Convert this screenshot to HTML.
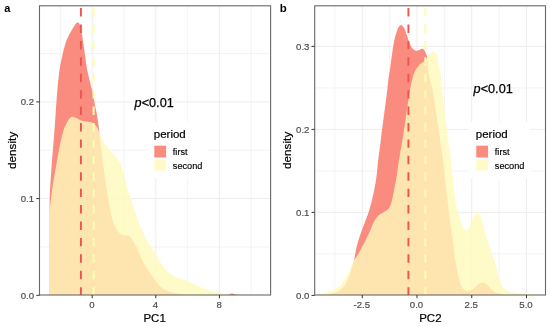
<!DOCTYPE html>
<html><head><meta charset="utf-8"><title>density</title>
<style>html,body{margin:0;padding:0;background:#fff}svg{display:block}</style></head>
<body>
<svg width="550" height="326" viewBox="0 0 550 326" font-family="'Liberation Sans', sans-serif">
<rect width="550" height="326" fill="#fff"/>
<defs></defs>
<clipPath id="ca"><rect x="39.5" y="5.8" width="231.10000000000002" height="289.2"/></clipPath>
<rect x="39.5" y="5.8" width="231.10000000000002" height="289.2" fill="#fff"/>
<line x1="60.400000000000006" x2="60.400000000000006" y1="5.8" y2="295.0" stroke="#F0F0F0" stroke-width="0.8"/>
<line x1="124.0" x2="124.0" y1="5.8" y2="295.0" stroke="#F0F0F0" stroke-width="0.8"/>
<line x1="187.60000000000002" x2="187.60000000000002" y1="5.8" y2="295.0" stroke="#F0F0F0" stroke-width="0.8"/>
<line x1="251.2" x2="251.2" y1="5.8" y2="295.0" stroke="#F0F0F0" stroke-width="0.8"/>
<line x1="39.5" x2="270.6" y1="246.95000000000002" y2="246.95000000000002" stroke="#F0F0F0" stroke-width="0.8"/>
<line x1="39.5" x2="270.6" y1="150.25000000000003" y2="150.25000000000003" stroke="#F0F0F0" stroke-width="0.8"/>
<line x1="39.5" x2="270.6" y1="53.55000000000001" y2="53.55000000000001" stroke="#F0F0F0" stroke-width="0.8"/>
<line x1="92.2" x2="92.2" y1="5.8" y2="295.0" stroke="#EDEDED" stroke-width="1"/>
<line x1="155.8" x2="155.8" y1="5.8" y2="295.0" stroke="#EDEDED" stroke-width="1"/>
<line x1="219.4" x2="219.4" y1="5.8" y2="295.0" stroke="#EDEDED" stroke-width="1"/>
<line x1="39.5" x2="270.6" y1="198.60000000000002" y2="198.60000000000002" stroke="#EDEDED" stroke-width="1"/>
<line x1="39.5" x2="270.6" y1="101.9" y2="101.9" stroke="#EDEDED" stroke-width="1"/>
<g clip-path="url(#ca)">
<path d="M49.60,295.30 L49.60,199.00 L49.69,197.20 L49.81,194.74 L49.96,191.81 L50.12,188.59 L50.30,185.26 L50.50,182.00 L50.71,178.73 L50.95,175.30 L51.20,171.75 L51.46,168.15 L51.73,164.55 L52.00,161.00 L52.27,157.49 L52.56,153.96 L52.85,150.44 L53.14,146.93 L53.43,143.44 L53.70,140.00 L53.97,136.59 L54.23,133.19 L54.48,129.81 L54.73,126.48 L54.97,123.21 L55.20,120.00 L55.42,116.86 L55.62,113.78 L55.81,110.75 L56.00,107.78 L56.20,104.86 L56.40,102.00 L56.61,99.22 L56.81,96.52 L57.01,93.88 L57.23,91.26 L57.45,88.64 L57.70,86.00 L57.97,83.24 L58.27,80.37 L58.59,77.50 L58.90,74.74 L59.21,72.20 L59.50,70.00 L59.77,68.21 L60.01,66.75 L60.26,65.51 L60.50,64.39 L60.74,63.25 L61.00,62.00 L61.27,60.63 L61.55,59.23 L61.84,57.83 L62.13,56.44 L62.41,55.09 L62.70,53.80 L62.97,52.59 L63.24,51.46 L63.50,50.36 L63.77,49.27 L64.07,48.16 L64.40,47.00 L64.76,45.78 L65.14,44.53 L65.54,43.25 L65.97,41.97 L66.42,40.72 L66.90,39.50 L67.41,38.32 L67.97,37.15 L68.54,36.00 L69.13,34.87 L69.72,33.77 L70.30,32.70 L70.88,31.63 L71.49,30.55 L72.09,29.50 L72.68,28.50 L73.22,27.59 L73.70,26.80 L74.11,26.14 L74.46,25.59 L74.76,25.12 L75.04,24.72 L75.32,24.36 L75.60,24.00 L75.89,23.65 L76.16,23.34 L76.42,23.06 L76.69,22.82 L76.94,22.63 L77.20,22.50 L77.46,22.42 L77.71,22.39 L77.97,22.41 L78.22,22.48 L78.46,22.61 L78.70,22.80 L78.93,23.05 L79.15,23.35 L79.36,23.71 L79.57,24.13 L79.79,24.63 L80.00,25.20 L80.21,25.82 L80.42,26.49 L80.63,27.22 L80.84,28.06 L81.07,29.04 L81.30,30.20 L81.55,31.57 L81.81,33.13 L82.08,34.83 L82.35,36.62 L82.62,38.46 L82.90,40.30 L83.17,42.10 L83.43,43.88 L83.69,45.71 L83.96,47.65 L84.26,49.76 L84.60,52.10 L84.96,54.71 L85.32,57.54 L85.71,60.54 L86.14,63.65 L86.63,66.82 L87.20,70.00 L87.91,73.33 L88.74,76.88 L89.64,80.49 L90.53,84.00 L91.34,87.22 L92.00,90.00 L92.50,92.25 L92.87,94.07 L93.17,95.62 L93.44,97.04 L93.70,98.45 L94.00,100.00 L94.34,101.70 L94.69,103.44 L95.04,105.19 L95.39,106.89 L95.71,108.51 L96.00,110.00 L96.25,111.28 L96.47,112.37 L96.67,113.38 L96.86,114.41 L97.07,115.58 L97.30,117.00 L97.57,118.78 L97.88,120.85 L98.19,123.06 L98.50,125.26 L98.78,127.29 L99.00,129.00 L99.14,130.19 L99.21,130.93 L99.26,131.50 L99.31,132.19 L99.41,133.26 L99.60,135.00 L99.89,137.52 L100.26,140.63 L100.67,144.12 L101.12,147.81 L101.57,151.50 L102.00,155.00 L102.43,158.39 L102.87,161.85 L103.31,165.31 L103.76,168.70 L104.19,171.96 L104.60,175.00 L105.00,177.85 L105.38,180.56 L105.76,183.12 L106.12,185.56 L106.47,187.85 L106.80,190.00 L107.11,191.95 L107.40,193.70 L107.68,195.30 L107.95,196.84 L108.22,198.38 L108.50,200.00 L108.77,201.69 L109.04,203.39 L109.30,205.09 L109.57,206.79 L109.87,208.50 L110.20,210.20 L110.56,211.93 L110.94,213.70 L111.35,215.46 L111.78,217.19 L112.23,218.85 L112.70,220.40 L113.19,221.84 L113.70,223.19 L114.24,224.47 L114.80,225.69 L115.38,226.86 L116.00,228.00 L116.66,229.13 L117.36,230.25 L118.09,231.33 L118.84,232.31 L119.58,233.19 L120.30,233.90 L121.01,234.43 L121.71,234.80 L122.41,235.06 L123.10,235.23 L123.80,235.36 L124.50,235.50 L125.22,235.59 L125.96,235.59 L126.70,235.56 L127.42,235.53 L128.09,235.56 L128.70,235.70 L129.23,235.94 L129.69,236.24 L130.11,236.59 L130.50,237.01 L130.89,237.48 L131.30,238.00 L131.73,238.62 L132.17,239.34 L132.61,240.13 L133.03,240.91 L133.43,241.65 L133.80,242.30 L134.12,242.82 L134.40,243.23 L134.65,243.61 L134.90,243.99 L135.18,244.44 L135.50,245.00 L135.85,245.64 L136.22,246.31 L136.61,247.04 L137.03,247.88 L137.49,248.85 L138.00,250.00 L138.56,251.38 L139.15,252.96 L139.78,254.69 L140.46,256.48 L141.20,258.28 L142.00,260.00 L142.87,261.67 L143.81,263.33 L144.81,265.00 L145.85,266.67 L146.92,268.33 L148.00,270.00 L149.11,271.69 L150.26,273.41 L151.44,275.12 L152.63,276.81 L153.82,278.45 L155.00,280.00 L156.13,281.49 L157.22,282.95 L158.31,284.35 L159.44,285.67 L160.66,286.90 L162.00,288.00 L163.52,288.97 L165.19,289.84 L166.94,290.60 L168.70,291.27 L170.41,291.87 L172.00,292.40 L173.43,292.84 L174.74,293.16 L176.00,293.41 L177.26,293.61 L178.57,293.80 L180.00,294.00 L181.26,294.21 L182.26,294.40 L183.31,294.58 L184.74,294.74 L186.86,294.88 L190.00,295.00 L194.76,295.10 L201.00,295.19 L207.94,295.26 L214.78,295.30 L220.73,295.30 L225.00,295.30 L227.34,295.25 L228.33,295.16 L228.44,295.04 L228.11,294.91 L227.81,294.76 L228.00,294.60 L228.61,294.40 L229.26,294.15 L229.94,293.88 L230.63,293.64 L231.32,293.47 L232.00,293.40 L232.67,293.47 L233.33,293.64 L234.00,293.88 L234.67,294.15 L235.33,294.40 L236.00,294.60 L236.71,294.75 L237.48,294.90 L238.25,295.03 L238.96,295.14 L239.56,295.23 L240.00,295.30 L240.00,295.30 Z" fill="rgb(249,139,127)"/>
<path d="M49.60,295.30 L49.60,212.00 L49.72,210.74 L49.87,209.04 L50.06,207.00 L50.28,204.74 L50.53,202.37 L50.80,200.00 L51.10,197.56 L51.44,194.94 L51.81,192.21 L52.20,189.43 L52.60,186.67 L53.00,184.00 L53.41,181.41 L53.83,178.86 L54.26,176.33 L54.70,173.80 L55.15,171.27 L55.60,168.70 L56.06,166.08 L56.53,163.40 L57.00,160.71 L57.47,158.05 L57.94,155.47 L58.40,153.00 L58.85,150.63 L59.29,148.32 L59.73,146.08 L60.16,143.94 L60.59,141.90 L61.00,140.00 L61.41,138.22 L61.80,136.56 L62.19,135.00 L62.57,133.56 L62.94,132.22 L63.30,131.00 L63.63,129.94 L63.94,129.04 L64.23,128.25 L64.53,127.52 L64.85,126.79 L65.20,126.00 L65.60,125.14 L66.03,124.26 L66.48,123.38 L66.94,122.52 L67.38,121.72 L67.80,121.00 L68.19,120.36 L68.57,119.78 L68.94,119.26 L69.30,118.79 L69.65,118.37 L70.00,118.00 L70.34,117.69 L70.66,117.44 L70.98,117.24 L71.30,117.09 L71.64,116.98 L72.00,116.90 L72.39,116.86 L72.80,116.87 L73.22,116.92 L73.65,117.00 L74.08,117.09 L74.50,117.20 L74.90,117.31 L75.27,117.43 L75.64,117.57 L76.03,117.74 L76.48,117.94 L77.00,118.20 L77.60,118.54 L78.27,118.95 L78.99,119.40 L79.75,119.85 L80.52,120.26 L81.30,120.60 L82.09,120.85 L82.91,121.05 L83.75,121.21 L84.60,121.34 L85.45,121.47 L86.30,121.60 L87.17,121.72 L88.06,121.80 L88.96,121.87 L89.83,121.97 L90.65,122.10 L91.40,122.30 L92.06,122.57 L92.66,122.88 L93.21,123.24 L93.72,123.63 L94.21,124.05 L94.70,124.50 L95.17,124.96 L95.62,125.42 L96.05,125.92 L96.47,126.47 L96.88,127.09 L97.30,127.80 L97.71,128.61 L98.11,129.51 L98.50,130.48 L98.90,131.51 L99.33,132.59 L99.80,133.70 L100.30,134.88 L100.81,136.14 L101.34,137.45 L101.91,138.77 L102.53,140.07 L103.20,141.30 L103.97,142.51 L104.83,143.72 L105.74,144.91 L106.64,146.04 L107.48,147.08 L108.20,148.00 L108.78,148.77 L109.25,149.40 L109.66,149.95 L110.06,150.45 L110.49,150.95 L111.00,151.50 L111.61,152.07 L112.28,152.63 L112.99,153.19 L113.70,153.76 L114.38,154.36 L115.00,155.00 L115.56,155.68 L116.07,156.39 L116.56,157.12 L117.04,157.89 L117.51,158.68 L118.00,159.50 L118.50,160.31 L119.00,161.09 L119.50,161.91 L120.00,162.80 L120.50,163.81 L121.00,165.00 L121.49,166.35 L121.97,167.81 L122.44,169.41 L122.93,171.13 L123.45,172.99 L124.00,175.00 L124.60,177.27 L125.25,179.81 L125.92,182.50 L126.60,185.19 L127.27,187.73 L127.90,190.00 L128.50,191.95 L129.07,193.70 L129.64,195.30 L130.19,196.84 L130.74,198.38 L131.30,200.00 L131.85,201.69 L132.40,203.39 L132.95,205.09 L133.50,206.79 L134.05,208.50 L134.60,210.20 L135.15,211.90 L135.70,213.60 L136.24,215.31 L136.80,217.01 L137.39,218.71 L138.00,220.40 L138.64,222.09 L139.31,223.77 L139.99,225.46 L140.70,227.14 L141.44,228.82 L142.20,230.50 L143.03,232.25 L143.93,234.08 L144.86,235.91 L145.76,237.66 L146.59,239.25 L147.30,240.60 L147.86,241.66 L148.30,242.47 L148.67,243.12 L149.01,243.70 L149.37,244.30 L149.80,245.00 L150.26,245.74 L150.71,246.44 L151.18,247.15 L151.70,247.94 L152.30,248.87 L153.00,250.00 L153.83,251.38 L154.76,252.96 L155.76,254.69 L156.82,256.48 L157.91,258.28 L159.00,260.00 L160.10,261.71 L161.22,263.48 L162.38,265.25 L163.56,266.96 L164.76,268.56 L166.00,270.00 L167.25,271.25 L168.52,272.37 L169.81,273.38 L171.15,274.30 L172.54,275.16 L174.00,276.00 L175.53,276.77 L177.11,277.44 L178.75,278.06 L180.44,278.67 L182.19,279.30 L184.00,280.00 L185.88,280.78 L187.85,281.59 L189.88,282.44 L191.93,283.30 L193.98,284.16 L196.00,285.00 L198.00,285.86 L200.00,286.74 L202.00,287.62 L204.00,288.48 L206.00,289.28 L208.00,290.00 L210.05,290.63 L212.15,291.20 L214.25,291.72 L216.30,292.19 L218.23,292.61 L220.00,293.00 L221.59,293.34 L223.04,293.64 L224.38,293.89 L225.63,294.11 L226.83,294.31 L228.00,294.50 L229.19,294.68 L230.37,294.85 L231.50,294.99 L232.52,295.12 L233.37,295.22 L234.00,295.30 L234.00,295.30 Z" fill="rgb(255,250,187)" fill-opacity="0.805"/>
<line x1="80.9" x2="80.9" y1="295.6" y2="5.8" stroke="#EE534D" stroke-width="1.9" stroke-dasharray="8.4 8.02"/>
<line x1="93.6" x2="93.6" y1="295.6" y2="5.8" stroke="#FFFDB0" stroke-width="2.1" stroke-dasharray="8.4 8.02"/>
</g>
<rect x="147" y="122" width="61" height="56" fill="#fff"/>
<text x="153.8" y="138.2" font-size="11.5" fill="#000" stroke="#000" stroke-width="0.2">period</text>
<rect x="154.3" y="145.7" width="11.8" height="11.8" fill="rgb(249,139,127)"/>
<rect x="154.3" y="159.2" width="11.8" height="11.6" fill="#FFFBC8"/>
<text x="172.8" y="155.3" font-size="9.2" fill="#000" stroke="#000" stroke-width="0.15">first</text>
<text x="172.8" y="169" font-size="9.2" fill="#000" stroke="#000" stroke-width="0.15">second</text>
<rect x="39.5" y="5.8" width="231.10000000000002" height="289.2" fill="none" stroke="#686868" stroke-width="1.1"/>
<line x1="92.2" x2="92.2" y1="295.0" y2="298.2" stroke="#333" stroke-width="1"/>
<text x="91.9" y="308.0" font-size="9.6" fill="#4D4D4D" stroke="#4D4D4D" stroke-width="0.2" text-anchor="middle">0</text>
<line x1="155.8" x2="155.8" y1="295.0" y2="298.2" stroke="#333" stroke-width="1"/>
<text x="155.5" y="308.0" font-size="9.6" fill="#4D4D4D" stroke="#4D4D4D" stroke-width="0.2" text-anchor="middle">4</text>
<line x1="219.4" x2="219.4" y1="295.0" y2="298.2" stroke="#333" stroke-width="1"/>
<text x="219.1" y="308.0" font-size="9.6" fill="#4D4D4D" stroke="#4D4D4D" stroke-width="0.2" text-anchor="middle">8</text>
<line x1="36.3" x2="39.5" y1="295.3" y2="295.3" stroke="#333" stroke-width="1"/>
<text x="34" y="298.8" font-size="9.6" fill="#4D4D4D" stroke="#4D4D4D" stroke-width="0.2" text-anchor="end">0.0</text>
<line x1="36.3" x2="39.5" y1="198.60000000000002" y2="198.60000000000002" stroke="#333" stroke-width="1"/>
<text x="34" y="202.10000000000002" font-size="9.6" fill="#4D4D4D" stroke="#4D4D4D" stroke-width="0.2" text-anchor="end">0.1</text>
<line x1="36.3" x2="39.5" y1="101.9" y2="101.9" stroke="#333" stroke-width="1"/>
<text x="34" y="105.4" font-size="9.6" fill="#4D4D4D" stroke="#4D4D4D" stroke-width="0.2" text-anchor="end">0.2</text>
<text x="154.6" y="321.5" font-size="11.5" fill="#000" stroke="#000" stroke-width="0.2" text-anchor="middle">PC1</text>
<text transform="translate(15.8,150.4) rotate(-90)" font-size="11.6" letter-spacing="0.1" stroke="#000" stroke-width="0.2" fill="#000" text-anchor="middle">density</text>
<text x="134.6" y="106.8" font-size="12.7" fill="#000" stroke="#000" stroke-width="0.25"><tspan font-style="italic">p</tspan>&lt;0.01</text>
<text x="4.3" y="11.9" font-size="11" font-weight="bold" fill="#000">a</text>
<clipPath id="cb"><rect x="314.7" y="5.8" width="230.8" height="289.2"/></clipPath>
<rect x="314.7" y="5.8" width="230.8" height="289.2" fill="#fff"/>
<line x1="334.875" x2="334.875" y1="5.8" y2="295.0" stroke="#F0F0F0" stroke-width="0.8"/>
<line x1="389.625" x2="389.625" y1="5.8" y2="295.0" stroke="#F0F0F0" stroke-width="0.8"/>
<line x1="444.375" x2="444.375" y1="5.8" y2="295.0" stroke="#F0F0F0" stroke-width="0.8"/>
<line x1="499.125" x2="499.125" y1="5.8" y2="295.0" stroke="#F0F0F0" stroke-width="0.8"/>
<line x1="314.7" x2="545.5" y1="253.89999999999998" y2="253.89999999999998" stroke="#F0F0F0" stroke-width="0.8"/>
<line x1="314.7" x2="545.5" y1="170.89999999999998" y2="170.89999999999998" stroke="#F0F0F0" stroke-width="0.8"/>
<line x1="314.7" x2="545.5" y1="87.89999999999998" y2="87.89999999999998" stroke="#F0F0F0" stroke-width="0.8"/>
<line x1="362.25" x2="362.25" y1="5.8" y2="295.0" stroke="#EDEDED" stroke-width="1"/>
<line x1="417.0" x2="417.0" y1="5.8" y2="295.0" stroke="#EDEDED" stroke-width="1"/>
<line x1="471.75" x2="471.75" y1="5.8" y2="295.0" stroke="#EDEDED" stroke-width="1"/>
<line x1="526.5" x2="526.5" y1="5.8" y2="295.0" stroke="#EDEDED" stroke-width="1"/>
<line x1="314.7" x2="545.5" y1="212.39999999999998" y2="212.39999999999998" stroke="#EDEDED" stroke-width="1"/>
<line x1="314.7" x2="545.5" y1="129.39999999999998" y2="129.39999999999998" stroke="#EDEDED" stroke-width="1"/>
<line x1="314.7" x2="545.5" y1="46.39999999999998" y2="46.39999999999998" stroke="#EDEDED" stroke-width="1"/>
<g clip-path="url(#cb)">
<path d="M320.00,295.40 L320.00,295.40 L320.67,295.30 L321.62,295.16 L322.74,295.00 L323.91,294.83 L325.03,294.65 L326.00,294.50 L326.80,294.36 L327.53,294.23 L328.20,294.11 L328.85,293.98 L329.51,293.84 L330.20,293.70 L330.93,293.55 L331.67,293.41 L332.42,293.26 L333.16,293.09 L333.89,292.91 L334.60,292.70 L335.29,292.47 L335.96,292.21 L336.62,291.94 L337.26,291.64 L337.89,291.33 L338.50,291.00 L339.09,290.65 L339.67,290.28 L340.23,289.89 L340.77,289.49 L341.29,289.05 L341.80,288.60 L342.29,288.12 L342.75,287.63 L343.20,287.11 L343.64,286.56 L344.07,285.99 L344.50,285.40 L344.93,284.78 L345.37,284.13 L345.79,283.46 L346.21,282.76 L346.61,282.04 L347.00,281.30 L347.36,280.54 L347.71,279.75 L348.04,278.94 L348.36,278.11 L348.68,277.27 L349.00,276.40 L349.33,275.51 L349.65,274.58 L349.98,273.64 L350.29,272.69 L350.60,271.74 L350.90,270.80 L351.19,269.86 L351.47,268.91 L351.74,267.97 L352.00,267.04 L352.25,266.15 L352.50,265.30 L352.73,264.55 L352.95,263.88 L353.16,263.24 L353.37,262.59 L353.58,261.86 L353.80,261.00 L354.03,259.99 L354.26,258.87 L354.49,257.67 L354.73,256.43 L354.97,255.20 L355.20,254.00 L355.43,252.83 L355.65,251.65 L355.87,250.47 L356.10,249.30 L356.34,248.14 L356.60,247.00 L356.88,245.88 L357.17,244.77 L357.47,243.67 L357.78,242.60 L358.09,241.54 L358.40,240.50 L358.71,239.50 L359.01,238.53 L359.32,237.58 L359.64,236.64 L359.96,235.68 L360.30,234.70 L360.65,233.69 L361.01,232.66 L361.38,231.61 L361.75,230.57 L362.12,229.53 L362.50,228.50 L362.87,227.52 L363.23,226.58 L363.59,225.64 L363.96,224.68 L364.36,223.64 L364.80,222.50 L365.30,221.20 L365.84,219.78 L366.42,218.28 L366.99,216.78 L367.53,215.33 L368.00,214.00 L368.40,212.81 L368.76,211.72 L369.07,210.69 L369.38,209.67 L369.68,208.62 L370.00,207.50 L370.33,206.34 L370.66,205.17 L370.99,203.97 L371.32,202.72 L371.66,201.41 L372.00,200.00 L372.36,198.48 L372.73,196.85 L373.11,195.16 L373.49,193.43 L373.85,191.70 L374.20,190.00 L374.53,188.33 L374.85,186.67 L375.16,185.00 L375.46,183.33 L375.74,181.67 L376.00,180.00 L376.24,178.33 L376.45,176.67 L376.65,175.00 L376.84,173.33 L377.02,171.67 L377.20,170.00 L377.37,168.39 L377.51,166.85 L377.65,165.31 L377.80,163.70 L377.98,161.96 L378.20,160.00 L378.48,157.79 L378.80,155.37 L379.15,152.81 L379.51,150.19 L379.87,147.56 L380.20,145.00 L380.51,142.50 L380.81,140.00 L381.10,137.50 L381.39,135.00 L381.69,132.50 L382.00,130.00 L382.32,127.50 L382.65,125.00 L382.99,122.50 L383.33,120.00 L383.66,117.50 L384.00,115.00 L384.34,112.44 L384.69,109.81 L385.04,107.19 L385.39,104.63 L385.71,102.21 L386.00,100.00 L386.26,98.04 L386.50,96.30 L386.71,94.69 L386.91,93.15 L387.11,91.61 L387.30,90.00 L387.48,88.33 L387.63,86.67 L387.78,85.00 L387.93,83.33 L388.10,81.67 L388.30,80.00 L388.53,78.36 L388.79,76.74 L389.06,75.12 L389.34,73.48 L389.63,71.78 L389.90,70.00 L390.16,68.12 L390.42,66.17 L390.68,64.16 L390.94,62.12 L391.22,60.06 L391.50,58.00 L391.80,55.89 L392.12,53.69 L392.44,51.48 L392.77,49.32 L393.09,47.27 L393.40,45.40 L393.69,43.74 L393.95,42.23 L394.21,40.84 L394.48,39.51 L394.77,38.22 L395.10,36.90 L395.48,35.53 L395.90,34.13 L396.35,32.76 L396.80,31.47 L397.22,30.30 L397.60,29.30 L397.93,28.50 L398.23,27.86 L398.50,27.35 L398.76,26.93 L399.03,26.55 L399.30,26.20 L399.58,25.86 L399.87,25.57 L400.15,25.33 L400.43,25.15 L400.72,25.04 L401.00,25.00 L401.28,25.05 L401.57,25.18 L401.85,25.38 L402.13,25.63 L402.42,25.91 L402.70,26.20 L402.97,26.47 L403.24,26.72 L403.50,27.01 L403.77,27.37 L404.07,27.85 L404.40,28.50 L404.77,29.35 L405.17,30.37 L405.59,31.52 L406.03,32.74 L406.47,33.98 L406.90,35.20 L407.33,36.44 L407.76,37.76 L408.20,39.10 L408.64,40.42 L409.07,41.67 L409.50,42.80 L409.91,43.82 L410.31,44.77 L410.70,45.66 L411.10,46.47 L411.53,47.22 L412.00,47.90 L412.52,48.52 L413.07,49.09 L413.65,49.59 L414.24,50.01 L414.83,50.35 L415.40,50.60 L415.95,50.74 L416.50,50.77 L417.05,50.72 L417.60,50.61 L418.15,50.46 L418.70,50.30 L419.27,50.07 L419.86,49.74 L420.45,49.37 L421.03,49.04 L421.58,48.79 L422.10,48.70 L422.58,48.76 L423.03,48.93 L423.46,49.19 L423.86,49.53 L424.24,49.93 L424.60,50.40 L424.94,50.96 L425.25,51.64 L425.54,52.39 L425.81,53.17 L426.06,53.92 L426.30,54.60 L426.52,55.11 L426.72,55.47 L426.91,55.81 L427.08,56.26 L427.24,56.94 L427.40,58.00 L427.54,59.53 L427.65,61.44 L427.76,63.59 L427.87,65.83 L428.01,68.02 L428.20,70.00 L428.43,71.78 L428.69,73.48 L428.98,75.12 L429.30,76.74 L429.64,78.36 L430.00,80.00 L430.41,81.67 L430.87,83.33 L431.36,85.00 L431.85,86.67 L432.30,88.33 L432.70,90.00 L433.04,91.70 L433.34,93.44 L433.61,95.19 L433.86,96.89 L434.09,98.51 L434.30,100.00 L434.47,101.22 L434.59,102.19 L434.69,103.06 L434.80,104.04 L434.96,105.29 L435.20,107.00 L435.53,109.24 L435.94,111.87 L436.39,114.78 L436.86,117.85 L437.34,120.96 L437.80,124.00 L438.24,127.00 L438.69,130.06 L439.14,133.16 L439.60,136.28 L440.05,139.40 L440.50,142.50 L440.96,145.55 L441.42,148.57 L441.89,151.59 L442.34,154.65 L442.78,157.77 L443.20,161.00 L443.58,164.36 L443.93,167.81 L444.26,171.34 L444.59,174.91 L444.93,178.47 L445.30,182.00 L445.70,185.49 L446.13,188.96 L446.57,192.44 L447.01,195.93 L447.46,199.44 L447.90,203.00 L448.34,206.74 L448.80,210.67 L449.25,214.62 L449.69,218.44 L450.11,221.96 L450.50,225.00 L450.85,227.47 L451.17,229.48 L451.48,231.19 L451.76,232.74 L452.03,234.29 L452.30,236.00 L452.56,237.83 L452.79,239.65 L453.02,241.47 L453.24,243.30 L453.47,245.14 L453.70,247.00 L453.94,248.90 L454.19,250.85 L454.43,252.81 L454.68,254.75 L454.94,256.66 L455.20,258.50 L455.47,260.28 L455.75,262.03 L456.04,263.74 L456.33,265.41 L456.61,267.03 L456.90,268.60 L457.17,270.10 L457.44,271.52 L457.70,272.90 L457.97,274.26 L458.27,275.61 L458.60,277.00 L458.96,278.46 L459.34,279.99 L459.74,281.51 L460.17,282.98 L460.62,284.33 L461.10,285.50 L461.62,286.48 L462.17,287.33 L462.75,288.06 L463.34,288.68 L463.93,289.22 L464.50,289.70 L465.03,290.11 L465.54,290.43 L466.04,290.67 L466.57,290.83 L467.15,290.90 L467.80,290.90 L468.55,290.82 L469.37,290.66 L470.24,290.41 L471.13,290.09 L472.03,289.68 L472.90,289.20 L473.75,288.57 L474.60,287.79 L475.46,286.93 L476.31,286.06 L477.16,285.26 L478.00,284.60 L478.85,284.04 L479.70,283.53 L480.56,283.08 L481.40,282.72 L482.21,282.48 L483.00,282.40 L483.76,282.49 L484.49,282.74 L485.20,283.12 L485.89,283.58 L486.56,284.08 L487.20,284.60 L487.81,285.16 L488.39,285.81 L488.95,286.51 L489.50,287.21 L490.04,287.89 L490.60,288.50 L491.16,289.05 L491.70,289.58 L492.25,290.07 L492.81,290.54 L493.39,290.99 L494.00,291.40 L494.65,291.78 L495.32,292.13 L496.01,292.45 L496.73,292.75 L497.46,293.03 L498.20,293.30 L498.96,293.56 L499.75,293.80 L500.55,294.02 L501.36,294.23 L502.18,294.42 L503.00,294.60 L503.88,294.77 L504.84,294.93 L505.80,295.08 L506.70,295.21 L507.45,295.32 L508.00,295.40 L508.00,295.40 Z" fill="rgb(249,139,127)"/>
<path d="M314.80,295.40 L314.80,295.00 L315.40,294.88 L316.24,294.71 L317.23,294.51 L318.27,294.29 L319.30,294.08 L320.20,293.90 L320.98,293.75 L321.70,293.61 L322.39,293.48 L323.08,293.34 L323.81,293.19 L324.60,293.00 L325.47,292.79 L326.38,292.56 L327.33,292.31 L328.30,292.03 L329.26,291.73 L330.20,291.40 L331.14,291.03 L332.08,290.63 L333.02,290.20 L333.95,289.75 L334.85,289.28 L335.70,288.80 L336.50,288.32 L337.27,287.84 L338.00,287.34 L338.71,286.81 L339.41,286.23 L340.10,285.60 L340.79,284.89 L341.48,284.12 L342.16,283.30 L342.81,282.46 L343.43,281.62 L344.00,280.80 L344.52,280.00 L344.99,279.21 L345.42,278.43 L345.84,277.63 L346.26,276.82 L346.70,276.00 L347.17,275.16 L347.65,274.31 L348.13,273.44 L348.61,272.57 L349.07,271.69 L349.50,270.80 L349.90,269.89 L350.28,268.96 L350.64,268.02 L351.00,267.09 L351.35,266.18 L351.70,265.30 L352.03,264.47 L352.33,263.69 L352.62,262.93 L352.95,262.16 L353.33,261.36 L353.80,260.50 L354.37,259.60 L355.02,258.70 L355.73,257.76 L356.48,256.77 L357.24,255.69 L358.00,254.50 L358.78,253.14 L359.61,251.61 L360.46,250.00 L361.30,248.39 L362.09,246.86 L362.80,245.50 L363.42,244.34 L363.97,243.33 L364.48,242.41 L364.97,241.50 L365.47,240.55 L366.00,239.50 L366.56,238.37 L367.11,237.20 L367.68,236.00 L368.26,234.74 L368.87,233.41 L369.50,232.00 L370.17,230.43 L370.88,228.70 L371.61,226.91 L372.34,225.13 L373.08,223.46 L373.80,222.00 L374.52,220.72 L375.25,219.56 L375.98,218.51 L376.69,217.57 L377.37,216.73 L378.00,216.00 L378.57,215.41 L379.09,214.97 L379.57,214.64 L380.04,214.36 L380.51,214.10 L381.00,213.80 L381.48,213.49 L381.95,213.21 L382.42,212.95 L382.90,212.67 L383.42,212.36 L384.00,212.00 L384.67,211.58 L385.41,211.13 L386.20,210.64 L386.97,210.12 L387.69,209.57 L388.30,209.00 L388.80,208.40 L389.21,207.78 L389.58,207.12 L389.90,206.44 L390.20,205.74 L390.50,205.00 L390.76,204.40 L390.96,203.96 L391.14,203.50 L391.34,202.81 L391.61,201.71 L392.00,200.00 L392.53,197.53 L393.19,194.44 L393.91,190.94 L394.65,187.22 L395.36,183.51 L396.00,180.00 L396.56,176.61 L397.09,173.15 L397.59,169.69 L398.07,166.30 L398.54,163.04 L399.00,160.00 L399.45,157.21 L399.87,154.63 L400.28,152.19 L400.69,149.81 L401.09,147.44 L401.50,145.00 L401.90,142.65 L402.28,140.48 L402.66,138.31 L403.06,135.96 L403.50,133.25 L404.00,130.00 L404.60,125.90 L405.30,121.04 L406.03,115.81 L406.76,110.63 L407.43,105.89 L408.00,102.00 L408.45,99.05 L408.81,96.74 L409.12,94.88 L409.41,93.26 L409.69,91.70 L410.00,90.00 L410.32,88.21 L410.63,86.48 L410.94,84.81 L411.26,83.19 L411.61,81.59 L412.00,80.00 L412.42,78.41 L412.87,76.82 L413.34,75.26 L413.84,73.76 L414.40,72.33 L415.00,71.00 L415.68,69.77 L416.43,68.62 L417.22,67.55 L418.04,66.56 L418.84,65.64 L419.60,64.80 L420.33,64.07 L421.06,63.46 L421.78,62.92 L422.47,62.43 L423.15,61.93 L423.80,61.40 L424.43,60.83 L425.04,60.27 L425.62,59.70 L426.19,59.13 L426.71,58.57 L427.20,58.00 L427.64,57.42 L428.04,56.82 L428.40,56.22 L428.74,55.64 L429.07,55.10 L429.40,54.60 L429.72,54.15 L430.03,53.73 L430.32,53.35 L430.61,53.00 L430.90,52.68 L431.20,52.40 L431.51,52.14 L431.83,51.90 L432.14,51.70 L432.46,51.54 L432.78,51.44 L433.10,51.40 L433.42,51.44 L433.74,51.54 L434.06,51.70 L434.37,51.90 L434.69,52.14 L435.00,52.40 L435.31,52.65 L435.63,52.91 L435.94,53.19 L436.24,53.55 L436.53,54.01 L436.80,54.60 L437.04,55.33 L437.26,56.16 L437.46,57.09 L437.66,58.13 L437.87,59.27 L438.10,60.50 L438.36,61.87 L438.65,63.38 L438.94,64.99 L439.24,66.66 L439.53,68.35 L439.80,70.00 L440.04,71.50 L440.25,72.85 L440.46,74.22 L440.67,75.76 L440.91,77.63 L441.20,80.00 L441.56,83.17 L441.99,87.07 L442.45,91.31 L442.90,95.48 L443.29,99.18 L443.60,102.00 L443.79,103.68 L443.88,104.48 L443.93,104.81 L443.96,105.07 L444.04,105.67 L444.20,107.00 L444.45,109.13 L444.75,111.74 L445.09,114.69 L445.45,117.81 L445.83,120.97 L446.20,124.00 L446.58,126.93 L446.97,129.89 L447.38,132.88 L447.79,135.89 L448.20,138.93 L448.60,142.00 L449.00,145.09 L449.41,148.19 L449.81,151.31 L450.21,154.48 L450.61,157.71 L451.00,161.00 L451.37,164.38 L451.73,167.85 L452.09,171.38 L452.44,174.93 L452.81,178.48 L453.20,182.00 L453.62,185.68 L454.07,189.56 L454.54,193.45 L454.99,197.13 L455.42,200.38 L455.80,203.00 L456.11,204.78 L456.36,205.86 L456.59,206.52 L456.81,207.04 L457.08,207.70 L457.40,208.80 L457.80,210.38 L458.24,212.24 L458.72,214.24 L459.22,216.26 L459.72,218.19 L460.20,219.90 L460.67,221.43 L461.14,222.87 L461.61,224.22 L462.07,225.46 L462.54,226.56 L463.00,227.50 L463.45,228.30 L463.88,228.96 L464.31,229.49 L464.74,229.88 L465.20,230.12 L465.70,230.20 L466.25,230.12 L466.83,229.88 L467.44,229.49 L468.06,228.96 L468.65,228.30 L469.20,227.50 L469.71,226.49 L470.19,225.23 L470.65,223.84 L471.10,222.41 L471.55,221.07 L472.00,219.90 L472.45,218.89 L472.90,217.93 L473.35,217.06 L473.80,216.27 L474.25,215.58 L474.70,215.00 L475.15,214.52 L475.60,214.13 L476.06,213.84 L476.52,213.66 L477.00,213.61 L477.50,213.70 L478.04,213.91 L478.61,214.22 L479.20,214.66 L479.79,215.25 L480.36,216.02 L480.90,217.00 L481.40,218.24 L481.88,219.74 L482.34,221.42 L482.79,223.20 L483.24,225.02 L483.70,226.80 L484.16,228.59 L484.62,230.46 L485.08,232.37 L485.54,234.26 L486.02,236.09 L486.50,237.80 L487.00,239.37 L487.50,240.84 L488.02,242.24 L488.54,243.63 L489.07,245.03 L489.60,246.50 L490.14,248.04 L490.70,249.61 L491.26,251.20 L491.81,252.80 L492.37,254.41 L492.90,256.00 L493.42,257.58 L493.94,259.17 L494.45,260.75 L494.95,262.33 L495.43,263.92 L495.90,265.50 L496.35,267.10 L496.77,268.72 L497.19,270.34 L497.59,271.94 L497.99,273.50 L498.40,275.00 L498.80,276.45 L499.17,277.88 L499.55,279.27 L499.94,280.60 L500.35,281.85 L500.80,283.00 L501.27,284.05 L501.74,285.01 L502.23,285.89 L502.77,286.70 L503.39,287.47 L504.10,288.20 L504.93,288.90 L505.87,289.55 L506.88,290.15 L507.93,290.70 L508.98,291.18 L510.00,291.60 L510.95,291.93 L511.84,292.17 L512.74,292.35 L513.70,292.50 L514.77,292.64 L516.00,292.80 L517.46,292.98 L519.11,293.16 L520.88,293.34 L522.67,293.50 L524.40,293.66 L526.00,293.80 L527.46,293.92 L528.85,294.02 L530.19,294.11 L531.48,294.20 L532.75,294.29 L534.00,294.40 L535.31,294.53 L536.67,294.68 L538.00,294.84 L539.22,294.99 L540.25,295.11 L541.00,295.20 L541.00,295.40 Z" fill="rgb(255,250,187)" fill-opacity="0.805"/>
<line x1="408.4" x2="408.4" y1="295.6" y2="5.8" stroke="#EE534D" stroke-width="1.9" stroke-dasharray="8.4 8.02"/>
<line x1="425.4" x2="425.4" y1="295.6" y2="5.8" stroke="#FFFDB0" stroke-width="2.1" stroke-dasharray="8.4 8.02"/>
</g>
<rect x="469" y="122" width="61" height="56" fill="#fff"/>
<text x="475.8" y="138.2" font-size="11.5" fill="#000" stroke="#000" stroke-width="0.2">period</text>
<rect x="476.3" y="145.7" width="11.8" height="11.8" fill="rgb(249,139,127)"/>
<rect x="476.3" y="159.2" width="11.8" height="11.6" fill="#FFFBC8"/>
<text x="494.8" y="155.3" font-size="9.2" fill="#000" stroke="#000" stroke-width="0.15">first</text>
<text x="494.8" y="169" font-size="9.2" fill="#000" stroke="#000" stroke-width="0.15">second</text>
<rect x="314.7" y="5.8" width="230.8" height="289.2" fill="none" stroke="#686868" stroke-width="1.1"/>
<line x1="362.25" x2="362.25" y1="295.0" y2="298.2" stroke="#333" stroke-width="1"/>
<text x="361.75" y="308.0" font-size="9.6" fill="#4D4D4D" stroke="#4D4D4D" stroke-width="0.2" text-anchor="middle">-2.5</text>
<line x1="417.0" x2="417.0" y1="295.0" y2="298.2" stroke="#333" stroke-width="1"/>
<text x="416.5" y="308.0" font-size="9.6" fill="#4D4D4D" stroke="#4D4D4D" stroke-width="0.2" text-anchor="middle">0.0</text>
<line x1="471.75" x2="471.75" y1="295.0" y2="298.2" stroke="#333" stroke-width="1"/>
<text x="471.25" y="308.0" font-size="9.6" fill="#4D4D4D" stroke="#4D4D4D" stroke-width="0.2" text-anchor="middle">2.5</text>
<line x1="526.5" x2="526.5" y1="295.0" y2="298.2" stroke="#333" stroke-width="1"/>
<text x="526.0" y="308.0" font-size="9.6" fill="#4D4D4D" stroke="#4D4D4D" stroke-width="0.2" text-anchor="middle">5.0</text>
<line x1="311.5" x2="314.7" y1="295.4" y2="295.4" stroke="#333" stroke-width="1"/>
<text x="309.4" y="298.9" font-size="9.6" fill="#4D4D4D" stroke="#4D4D4D" stroke-width="0.2" text-anchor="end">0.0</text>
<line x1="311.5" x2="314.7" y1="212.39999999999998" y2="212.39999999999998" stroke="#333" stroke-width="1"/>
<text x="309.4" y="215.89999999999998" font-size="9.6" fill="#4D4D4D" stroke="#4D4D4D" stroke-width="0.2" text-anchor="end">0.1</text>
<line x1="311.5" x2="314.7" y1="129.39999999999998" y2="129.39999999999998" stroke="#333" stroke-width="1"/>
<text x="309.4" y="132.89999999999998" font-size="9.6" fill="#4D4D4D" stroke="#4D4D4D" stroke-width="0.2" text-anchor="end">0.2</text>
<line x1="311.5" x2="314.7" y1="46.39999999999998" y2="46.39999999999998" stroke="#333" stroke-width="1"/>
<text x="309.4" y="49.89999999999998" font-size="9.6" fill="#4D4D4D" stroke="#4D4D4D" stroke-width="0.2" text-anchor="end">0.3</text>
<text x="430.4" y="321.5" font-size="11.5" fill="#000" stroke="#000" stroke-width="0.2" text-anchor="middle">PC2</text>
<text transform="translate(291.2,150.4) rotate(-90)" font-size="11.6" letter-spacing="0.1" stroke="#000" stroke-width="0.2" fill="#000" text-anchor="middle">density</text>
<text x="473.6" y="92.8" font-size="12.7" fill="#000" stroke="#000" stroke-width="0.25"><tspan font-style="italic">p</tspan>&lt;0.01</text>
<text x="279.8" y="11.6" font-size="11.5" font-weight="bold" fill="#000">b</text>
</svg>
</body></html>
